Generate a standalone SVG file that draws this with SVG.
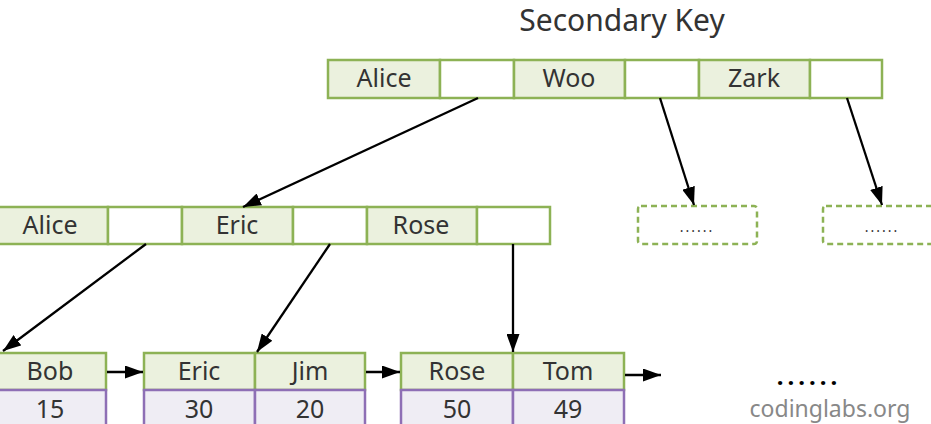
<svg xmlns="http://www.w3.org/2000/svg" width="931" height="424" viewBox="0 0 931 424">
<defs>
<marker id="ah" viewBox="0 0 18 13" refX="18" refY="6.5" markerWidth="18" markerHeight="13" markerUnits="userSpaceOnUse" orient="auto">
<path d="M0,0 L18,6.5 L0,13 Z" fill="#000"/>
</marker>
</defs>
<style>
.k{fill:#ebf1de;stroke:#8db255;stroke-width:2.5}
.p{fill:#fff;stroke:#8db255;stroke-width:2.5}
.v{fill:#efedf4;stroke:#8e6fb5;stroke-width:2.5}
.d{fill:#fff;stroke:#8db255;stroke-width:2.5;stroke-dasharray:6 4}
text{font-family:"Noto Sans","Open Sans","DejaVu Sans",sans-serif;fill:#333;text-anchor:middle}
.t{font-size:25px}
.c{stroke:#000;stroke-width:2.3;fill:none}
</style>
<rect width="931" height="424" fill="#fff"/>
<text x="622" y="31" style="font-size:30px">Secondary Key</text>

<g id="root">
<rect class="k" x="328" y="60" width="112" height="38"/>
<rect class="p" x="440" y="60" width="74" height="38"/>
<rect class="k" x="514" y="60" width="111" height="38"/>
<rect class="p" x="625" y="60" width="74" height="38"/>
<rect class="k" x="699" y="60" width="111" height="38"/>
<rect class="p" x="810" y="60" width="72" height="38"/>
<text class="t" x="384" y="87">Alice</text>
<text class="t" x="569" y="87">Woo</text>
<text class="t" x="754" y="87">Zark</text>
</g>

<g id="inner">
<rect class="k" x="-2" y="207" width="110" height="37"/>
<rect class="p" x="108" y="207" width="74" height="37"/>
<rect class="k" x="182" y="207" width="111" height="37"/>
<rect class="p" x="293" y="207" width="74" height="37"/>
<rect class="k" x="367" y="207" width="110" height="37"/>
<rect class="p" x="477" y="207" width="73" height="37"/>
<text class="t" x="50" y="234">Alice</text>
<text class="t" x="237" y="234">Eric</text>
<text class="t" x="421" y="234">Rose</text>
</g>

<g id="dash1">
<rect class="d" x="638" y="206" width="119" height="38" rx="3"/>
<text x="697" y="232" style="font-size:14px;letter-spacing:2px">......</text>
</g>
<g id="dash2">
<rect class="d" x="823" y="206" width="119" height="38" rx="3"/>
<text x="882" y="232" style="font-size:14px;letter-spacing:2px">......</text>
</g>

<g id="leaf1">
<rect class="k" x="-5" y="353" width="111" height="37"/>
<rect class="v" x="-5" y="390" width="111" height="40"/>
<text class="t" x="50" y="380">Bob</text>
<text class="t" x="50" y="418">15</text>
</g>
<g id="leaf2">
<rect class="k" x="144" y="353" width="111" height="37"/>
<rect class="k" x="255" y="353" width="110" height="37"/>
<rect class="v" x="144" y="390" width="111" height="40"/>
<rect class="v" x="255" y="390" width="110" height="40"/>
<text class="t" x="199" y="380">Eric</text>
<text class="t" x="310" y="380">Jim</text>
<text class="t" x="199" y="418">30</text>
<text class="t" x="310" y="418">20</text>
</g>
<g id="leaf3">
<rect class="k" x="401" y="353" width="112" height="37"/>
<rect class="k" x="513" y="353" width="111" height="37"/>
<rect class="v" x="401" y="390" width="112" height="40"/>
<rect class="v" x="513" y="390" width="111" height="40"/>
<text class="t" x="457" y="380">Rose</text>
<text class="t" x="568" y="380">Tom</text>
<text class="t" x="457" y="418">50</text>
<text class="t" x="568" y="418">49</text>
</g>

<text x="809" y="385" style="font-size:24px;font-weight:bold;fill:#000;letter-spacing:4px">......</text>
<text x="830" y="417" style="font-size:23px;fill:#888">codinglabs.org</text>

<g id="connectors">
<line class="c" x1="478" y1="98" x2="243" y2="207" marker-end="url(#ah)"/>
<line class="c" x1="660" y1="98" x2="694" y2="205" marker-end="url(#ah)"/>
<line class="c" x1="847" y1="98" x2="882" y2="205" marker-end="url(#ah)"/>
<line class="c" x1="146" y1="244" x2="3" y2="351" marker-end="url(#ah)"/>
<line class="c" x1="330" y1="244" x2="257" y2="352" marker-end="url(#ah)"/>
<line class="c" x1="513" y1="244" x2="513" y2="352" marker-end="url(#ah)"/>
<line class="c" x1="107" y1="372" x2="143" y2="372" marker-end="url(#ah)"/>
<line class="c" x1="366" y1="372" x2="400" y2="372" marker-end="url(#ah)"/>
<line class="c" x1="625" y1="375" x2="661" y2="375" marker-end="url(#ah)"/>
</g>
</svg>
